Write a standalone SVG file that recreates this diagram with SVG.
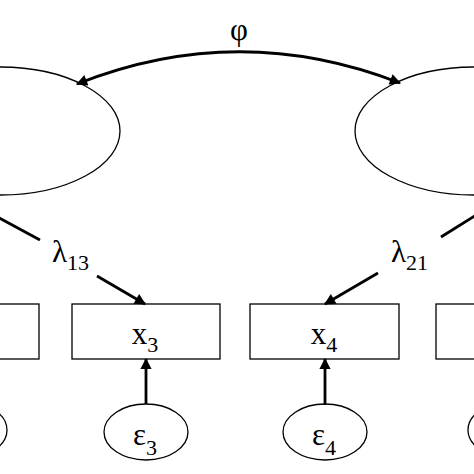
<svg xmlns="http://www.w3.org/2000/svg" width="474" height="474" viewBox="0 0 474 474">
<style>
.sh{fill:#fff;stroke:#000;stroke-width:1.3}
.t{font-family:"Liberation Serif","Times New Roman",serif;font-size:31px;fill:#000}
.s{font-size:22px}
.c{fill:none;stroke:#000;stroke-width:2.8}
</style>
<defs>
<marker id="ah" viewBox="0 0 10 10" refX="9" refY="5" markerWidth="4.5" markerHeight="4" orient="auto" markerUnits="strokeWidth">
<path d="M0,0 L10,5 L0,10 z" fill="#000"/>
</marker>
<marker id="as" viewBox="0 0 10 10" refX="9" refY="5" markerWidth="4.5" markerHeight="4" orient="auto-start-reverse" markerUnits="strokeWidth">
<path d="M0,0 L10,5 L0,10 z" fill="#000"/>
</marker>
</defs>
<g id="xi1"><ellipse class="sh" cx="0" cy="131" rx="120" ry="64"/></g>
<g id="xi2"><ellipse class="sh" cx="474" cy="131" rx="119" ry="64"/></g>
<g id="xL"><rect class="sh" x="-109" y="304" width="148" height="55"/></g>
<g id="x3"><rect class="sh" x="72" y="304" width="148" height="55"/>
<text class="t" x="145" y="344" text-anchor="middle">x<tspan class="s" dy="8">3</tspan></text></g>
<g id="x4"><rect class="sh" x="250" y="304" width="149" height="55"/>
<text class="t" x="324" y="344" text-anchor="middle">x<tspan class="s" dy="8">4</tspan></text></g>
<g id="xR"><rect class="sh" x="436" y="304" width="148" height="55"/></g>
<g id="eL"><ellipse class="sh" cx="-35" cy="430" rx="42" ry="28"/></g>
<g id="e3"><ellipse class="sh" cx="146" cy="432" rx="42" ry="28"/>
<text class="t" x="145" y="445" text-anchor="middle">ε<tspan class="s" dy="10">3</tspan></text></g>
<g id="e4"><ellipse class="sh" cx="325" cy="432" rx="42" ry="28"/>
<text class="t" x="324" y="445" text-anchor="middle">ε<tspan class="s" dy="10">4</tspan></text></g>
<g id="eR"><ellipse class="sh" cx="510" cy="430" rx="42" ry="28"/></g>
<g id="connectors">
<path class="c" d="M77,84 Q238,20 400,83" marker-start="url(#as)" marker-end="url(#ah)"/>
<path class="c" d="M-10,213 L40,240"/>
<path class="c" d="M97,276 L145,304" marker-end="url(#ah)"/>
<path class="c" d="M484,210 L441,237"/>
<path class="c" d="M378,273 L325,304" marker-end="url(#ah)"/>
<path class="c" d="M146,404 L146,359" marker-end="url(#ah)"/>
<path class="c" d="M325,405 L325,359" marker-end="url(#ah)"/>
</g>
<g id="labels">
<text class="t" x="239" y="40" text-anchor="middle">φ</text>
<text class="t" x="52" y="262">λ<tspan class="s" dy="8">13</tspan></text>
<text class="t" x="391" y="262">λ<tspan class="s" dy="8">21</tspan></text>
</g>
</svg>
